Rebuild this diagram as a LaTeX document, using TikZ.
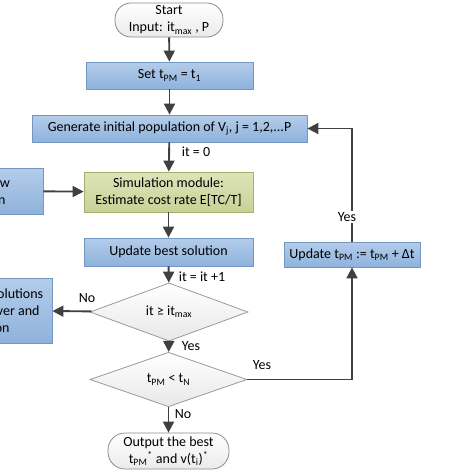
\documentclass[tikz,border=0pt]{standalone}
\usepackage{fontspec}
\setmainfont{Carlito}
\usetikzlibrary{arrows.meta,shapes.geometric}
\definecolor{boxtop}{HTML}{B4CDEA}
\definecolor{boxbot}{HTML}{8EB2DC}
\definecolor{boxline}{HTML}{7396C2}
\definecolor{simtop}{HTML}{DDE5BA}
\definecolor{simbot}{HTML}{C7D196}
\definecolor{simline}{HTML}{A3B06C}
\definecolor{termline}{HTML}{8C8C8C}
\definecolor{dialine}{HTML}{9A9A9A}
\definecolor{arr}{HTML}{404040}
\newcommand{\lo}[1]{\textsubscript{#1}}
\newcommand{\hi}[1]{\textsuperscript{#1}}
\begin{document}
\begin{tikzpicture}[x=1pt,y=-1pt,
  font=\fontsize{14}{17}\selectfont,
  procbox/.style={rectangle,draw=boxline,line width=0.8pt,top color=boxtop,bottom color=boxbot,align=center,inner sep=1pt},
  simbox/.style={rectangle,draw=simline,line width=0.8pt,top color=simtop,bottom color=simbot,align=center,inner sep=1pt},
  termbox/.style={rectangle,rounded corners=16pt,draw=termline,line width=0.8pt,top color=white,bottom color=black!8,align=center,inner sep=1pt},
  decbox/.style={diamond,draw=dialine,line width=0.8pt,top color=white,bottom color=black!9,align=center,inner sep=0pt},
  flow/.style={draw=arr,line width=1.9pt,-{Triangle[length=11pt,width=11pt]}},
  lbl/.style={inner sep=1pt,text=black}]
\useasboundingbox (0,0) rectangle (474,474);

\node[termbox,minimum width=108pt,minimum height=34pt] (start) at (169,20) {Start\\Input: it\lo{max} , P};
\node[procbox,minimum width=167pt,minimum height=27pt] (set) at (169.5,75.5) {Set t\lo{PM} = t\lo{1}};
\node[procbox,minimum width=275pt,minimum height=27pt] (gen) at (169.5,128.5) {Generate initial population of V\lo{j}, j = 1,2,...P};
\node[simbox,minimum width=169pt,minimum height=40pt] (sim) at (168.5,192) {Simulation module:\\Estimate cost rate E[TC/T]};
\node[procbox,minimum width=169pt,minimum height=28pt] (best) at (168.5,252) {Update best solution};
\node[decbox,minimum width=158pt,minimum height=47pt] (d1) at (169,312) {it ≥ it\lo{max}};
\node[decbox,minimum width=157pt,minimum height=47pt] (d2) at (168.5,379.5) {t\lo{PM} < t\lo{N}};
\node[termbox,minimum width=121pt,minimum height=36pt,rounded corners=17pt] (out) at (168.5,451) {Output the best\\t\lo{PM}\hi{*} and v(t\lo{i})\hi{*}};
\node[procbox,minimum width=136pt,minimum height=25pt] (upd) at (352,254.5) {Update t\lo{PM} := t\lo{PM} + Δt};
\node[procbox,minimum width=159pt,minimum height=46pt] (inp) at (-36.5,191) {Degradation law\\and simulation};
\node[procbox,minimum width=137pt,minimum height=65pt] (newsol) at (-16.5,310.5) {Create new solutions\\using crossover and\\mutation};

\coordinate (c1) at (352,379.5);
\coordinate (c2) at (352,128.5);

\draw[flow] (start) -- (set);
\draw[flow] (set) -- (gen);
\draw[flow] (gen) -- (sim);
\draw[flow] (inp) -- (sim);
\draw[flow] (sim) -- (best);
\draw[flow] (best) -- (d1);
\draw[flow] (d1) -- (newsol);
\draw[flow] (d1) -- (d2);
\draw[flow] (d2) -- (out);
\draw[flow] (d2.east) -- (c1) -- (upd.south);
\draw[flow] (upd.north) -- (c2) -- (gen.east);

\node[lbl] (l0) at (196,152) {it = 0};
\node[lbl] (l1) at (202,277) {it = it +1};
\node[lbl] (l2) at (87,298) {No};
\node[lbl] (l3) at (191,346) {Yes};
\node[lbl] (l4) at (262,365) {Yes};
\node[lbl] (l5) at (183,414) {No};
\node[lbl,fill=white] (l6) at (347,217) {Yes};
\end{tikzpicture}
\end{document}
